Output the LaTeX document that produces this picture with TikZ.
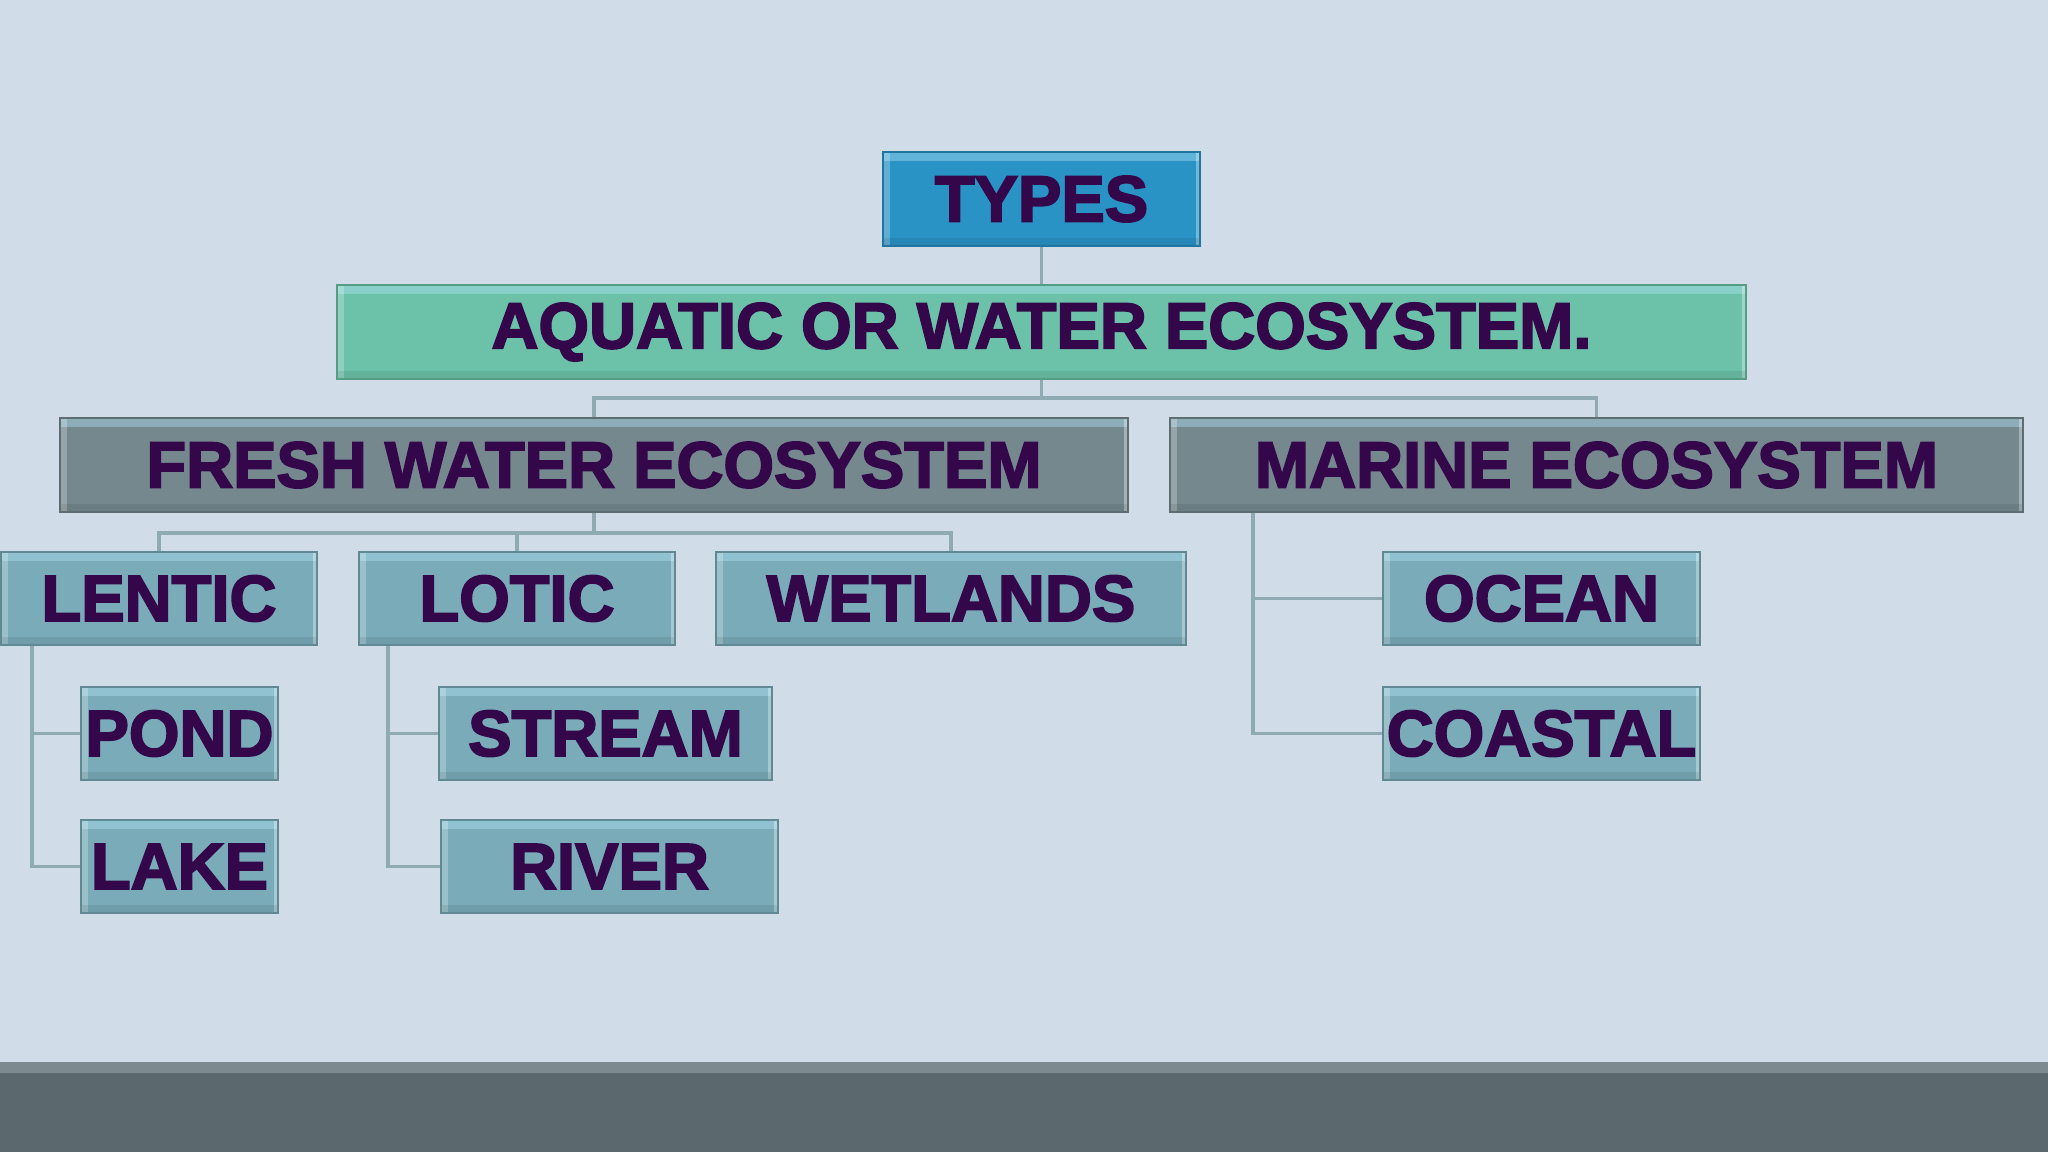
\documentclass[tikz,border=0pt]{standalone}
\usepackage{fontspec}
\usepackage{tikz}
\usetikzlibrary{positioning}

\newfontfamily\heavyfont{Liberation Sans Bold}[FakeBold=2.8]

\definecolor{slidebg}{HTML}{D0DCE8}
\definecolor{inkpurple}{HTML}{33074A}
\definecolor{typesblue}{HTML}{2A93C6}
\definecolor{aquagreen}{HTML}{6CC2A8}
\definecolor{branchgray}{HTML}{74888E}
\definecolor{leafteal}{HTML}{79ABB8}
\definecolor{linegray}{HTML}{8FAAB2}
\definecolor{bandlight}{HTML}{7D8A90}
\definecolor{banddark}{HTML}{5B686D}

\begin{document}
\begin{tikzpicture}[
            x=0.01cm, y=-0.01cm, % one unit is one pixel, y runs downwards
            box/.style={rectangle, draw=#1!80!black, line width=0.6pt, fill=#1,
                inner sep=0pt, minimum height=0.94cm, text=inkpurple,
                font=\heavyfont\fontsize{18.5}{20}\selectfont,
                path picture={
                    % bevel: light band on top and left, darker band at the bottom
                    \fill[cyan!30!white, opacity=0.4] (path picture bounding box.north west)
                        rectangle ([yshift=-0.09cm]path picture bounding box.north east);
                    \fill[white, opacity=0.25] (path picture bounding box.north west)
                        rectangle ([xshift=0.07cm]path picture bounding box.south west);
                    \fill[white, opacity=0.35] ([xshift=-0.04cm]path picture bounding box.north east)
                        rectangle (path picture bounding box.south east);
                    \fill[black, opacity=0.08] ([yshift=0.08cm]path picture bounding box.south west)
                        rectangle (path picture bounding box.south east);
                }},
            leaf/.style={box=leafteal, minimum height=0.93cm},
            link/.style={draw=linegray, line width=1pt}
            ]

        % slide background and the band at the bottom
        \fill[slidebg] (0,0) rectangle (2048,1152);
        \fill[bandlight] (0,1062) rectangle (2048,1152);
        \fill[banddark] (0,1073) rectangle (2048,1152);
        \useasboundingbox (0,0) rectangle (2048,1152);

        % top two levels
        \node[box=typesblue, minimum width=3.17cm] (types) at (1041.5,199) {TYPES};
        \node[box=aquagreen, minimum width=14.09cm] (aquatic) at (1041.5,332) {AQUATIC OR WATER ECOSYSTEM.};

        % the two branches
        \node[box=branchgray, minimum width=10.68cm] (fresh) at (594,465) {FRESH WATER ECOSYSTEM};
        \node[box=branchgray, minimum width=8.53cm] (marine) at (1596.5,465) {MARINE ECOSYSTEM};

        % fresh water kinds
        \node[leaf, minimum width=3.16cm] (lentic) at (159,598.5) {LENTIC};
        \node[leaf, minimum width=3.16cm] (lotic) at (517,598.5) {LOTIC};
        \node[leaf, minimum width=4.70cm] (wetlands) at (951,598.5) {WETLANDS};

        \node[leaf, minimum width=1.97cm] (pond) at (179.5,733.5) {POND};
        \node[leaf, minimum width=1.97cm] (lake) at (179.5,866.5) {LAKE};
        \node[leaf, minimum width=3.33cm] (stream) at (605.5,733.5) {STREAM};
        \node[leaf, minimum width=3.37cm] (river) at (609.5,866.5) {RIVER};

        % marine kinds
        \node[leaf, minimum width=3.17cm] (ocean) at (1541.5,598.5) {OCEAN};
        \node[leaf, minimum width=3.17cm] (coastal) at (1541.5,733.5) {COASTAL};

        % connectors
        \draw[link] (types) -- (aquatic);
        \draw[link] (aquatic.south) -- ++(0,18) -| (fresh.north);
        \draw[link] (aquatic.south) -- ++(0,18) -| (marine.north);

        \draw[link] (fresh.south) -- ++(0,20) -| (lentic.north);
        \draw[link] (fresh.south) -- ++(0,20) -| (lotic.north);
        \draw[link] (fresh.south) -- ++(0,20) -| (wetlands.north);

        \draw[link] ([xshift=0.32cm]lentic.south west) |- (pond.west);
        \draw[link] ([xshift=0.32cm]lentic.south west) |- (lake.west);
        \draw[link] ([xshift=0.30cm]lotic.south west) |- (stream.west);
        \draw[link] ([xshift=0.30cm]lotic.south west) |- (river.west);

        \draw[link] ([xshift=0.84cm]marine.south west) |- (ocean.west);
        \draw[link] ([xshift=0.84cm]marine.south west) |- (coastal.west);

    \end{tikzpicture}
\end{document}
